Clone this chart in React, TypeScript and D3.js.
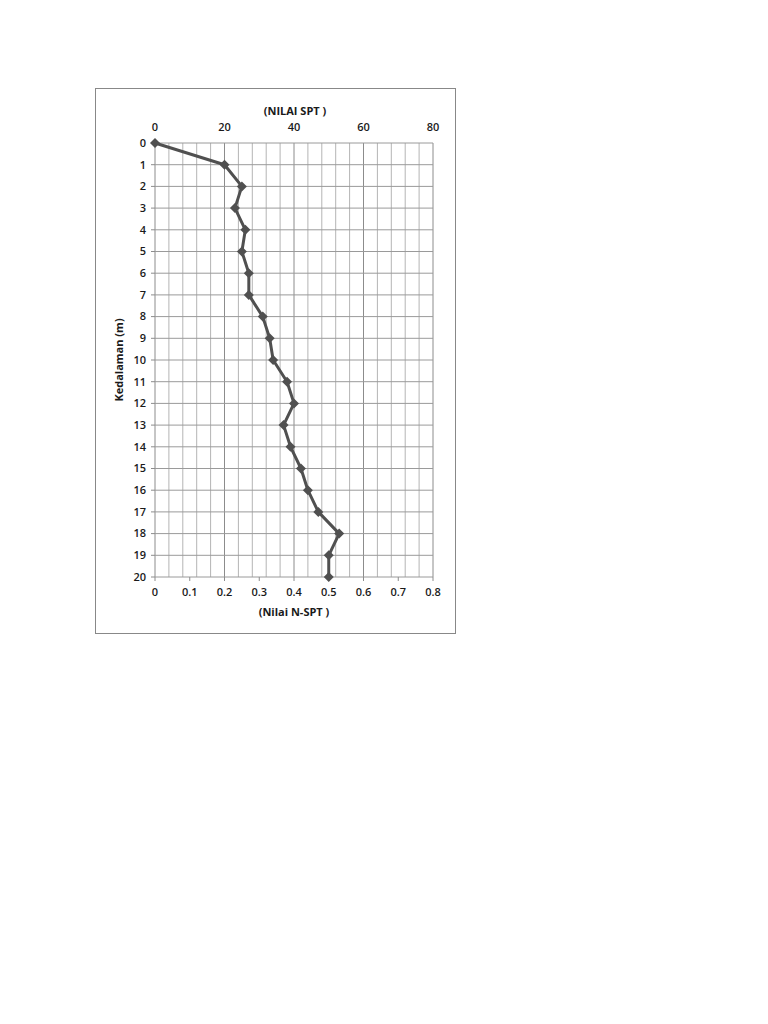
import React from "react";
import * as d3 from "d3";

const depths = [0, 1, 2, 3, 4, 5, 6, 7, 8, 9, 10, 11, 12, 13, 14, 15, 16, 17, 18, 19, 20];
const sptValues = [0, 20, 25, 23, 26, 25, 27, 27, 31, 33, 34, 38, 40, 37, 39, 42, 44, 47, 53, 50, 50];
const topTicks = [0, 20, 40, 60, 80];
const bottomTicks = [0, 0.1, 0.2, 0.3, 0.4, 0.5, 0.6, 0.7, 0.8];
const minorTicks = d3.range(0, 81, 4);

export default function App() {
  const left = 155, right = 433, top = 143, bottom = 577;
  const x = d3.scaleLinear().domain([0, 80]).range([left, right]);
  const xb = d3.scaleLinear().domain([0, 0.8]).range([left, right]);
  const y = d3.scaleLinear().domain([0, 20]).range([top, bottom]);
  const line = d3.line<number>().x((d) => x(d)).y((_, i) => y(depths[i]));
  const font = "'Open Sans', 'Liberation Sans', sans-serif";
  const fs = 11;
  return (
    <svg width={768} height={1024} style={{ position: "absolute", left: 0, top: 0 }}>
      <rect x={0} y={0} width={768} height={1024} fill="#fff" />
      <rect x={95.5} y={88.5} width={360} height={545} fill="#fff" stroke="#888" strokeWidth={1} />
      {minorTicks.map((t) => (
        <line key={"v" + t} x1={x(t)} x2={x(t)} y1={top} y2={bottom}
          stroke={t % 20 === 0 ? "#8c8c8c" : "#b4b4b4"} strokeWidth={1} />
      ))}
      {depths.map((d) => (
        <line key={"h" + d} x1={left} x2={right} y1={y(d)} y2={y(d)} stroke="#9a9a9a" strokeWidth={1} />
      ))}
      {bottomTicks.map((t) => (
        <line key={"bt" + t} x1={xb(t)} x2={xb(t)} y1={bottom} y2={bottom + 4} stroke="#8c8c8c" />
      ))}
      {depths.map((d) => (
        <line key={"lt" + d} x1={left - 4} x2={left} y1={y(d)} y2={y(d)} stroke="#8c8c8c" />
      ))}
      {topTicks.map((t) => (
        <text key={"tt" + t} x={x(t)} y={131} textAnchor="middle" fontFamily={font} fontWeight={600} fontSize={fs} fill="#1a1a1a">{t}</text>
      ))}
      {bottomTicks.map((t) => (
        <text key={"bl" + t} x={xb(t)} y={596} textAnchor="middle" fontFamily={font} fontWeight={600} fontSize={fs} fill="#1a1a1a">{t}</text>
      ))}
      {depths.map((d) => (
        <text key={"dl" + d} x={146} y={y(d)} dy="0.35em" textAnchor="end" fontFamily={font} fontWeight={600} fontSize={fs} fill="#1a1a1a">{d}</text>
      ))}
      <text x={295} y={115} textAnchor="middle" fontFamily={font} fontWeight={700} fontSize={fs} fill="#1a1a1a">(NILAI SPT )</text>
      <text x={294} y={616} textAnchor="middle" fontFamily={font} fontWeight={700} fontSize={fs} fill="#1a1a1a">(Nilai N-SPT )</text>
      <text transform="translate(123,360) rotate(-90)" textAnchor="middle" fontFamily={font} fontWeight={700} fontSize={fs} fill="#1a1a1a">Kedalaman (m)</text>
      <path d={line(sptValues) || ""} fill="none" stroke="#505050" strokeWidth={3} strokeLinejoin="round" />
      {sptValues.map((v, i) => (
        <path key={"m" + i} transform={`translate(${x(v)},${y(depths[i])})`} d="M0,-5L5,0L0,5L-5,0Z" fill="#505050" />
      ))}
    </svg>
  );
}
